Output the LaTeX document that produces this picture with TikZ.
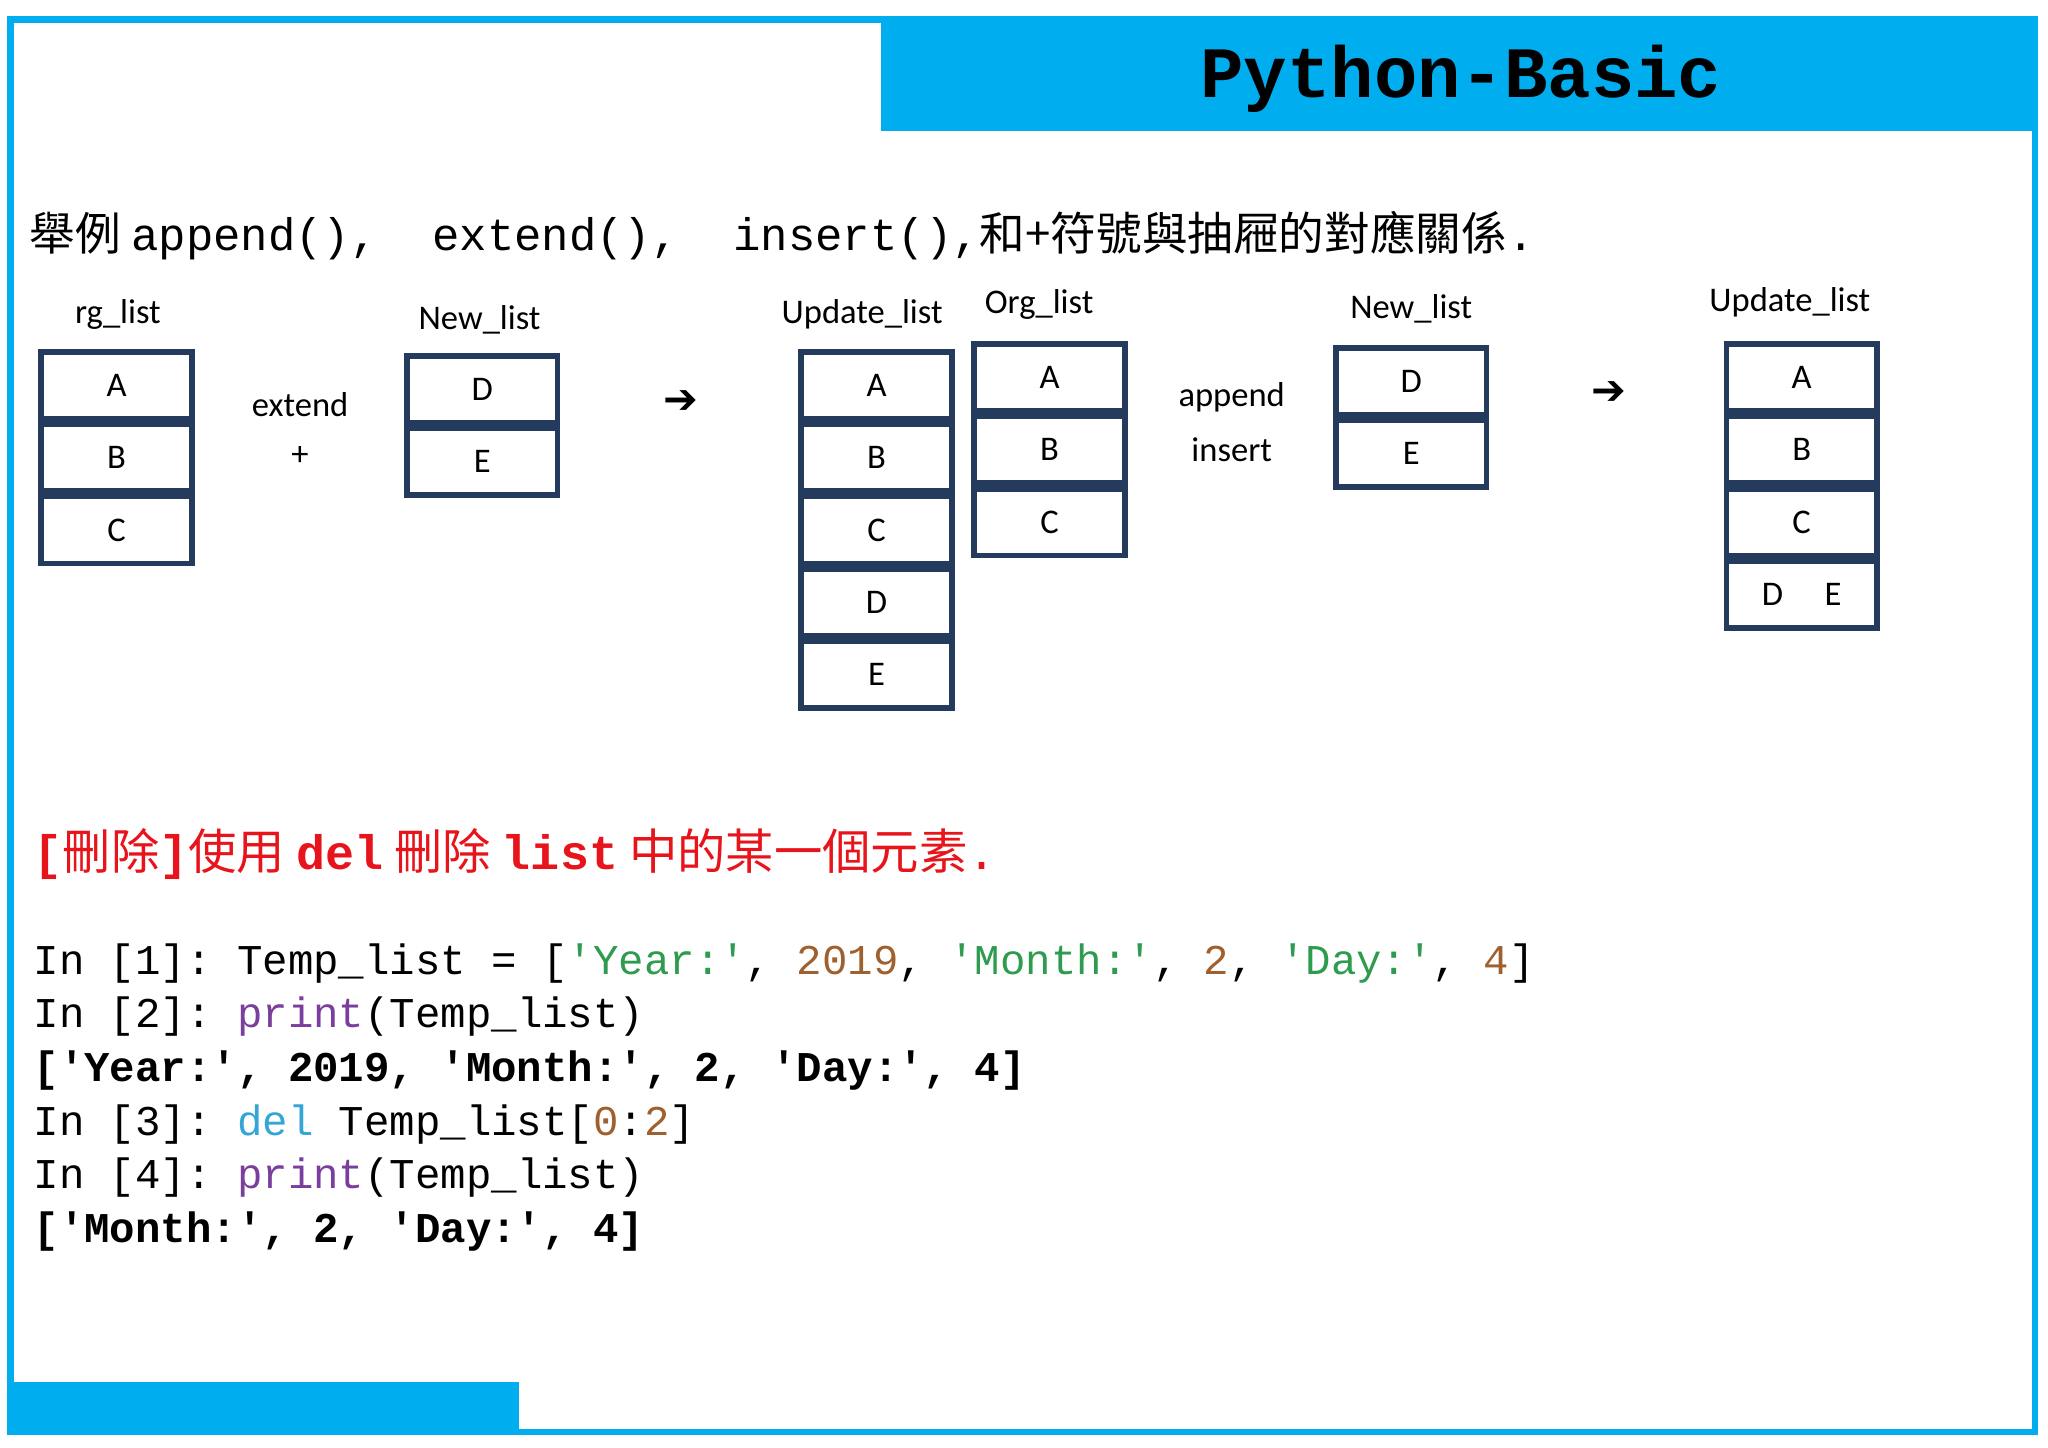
\documentclass[tikz,border=0pt]{standalone}
\usepackage{fontspec}
\setmainfont{Carlito}
\setmonofont{Liberation Mono}
\newfontfamily\cjk{Noto Sans CJK TC}
\newfontfamily\symfont{DejaVu Sans}
\usetikzlibrary{positioning}
\definecolor{frame}{HTML}{00AEEF}
\definecolor{navy}{HTML}{243B5E}
\definecolor{strg}{HTML}{2E9B4E}
\definecolor{numb}{HTML}{A0602D}
\definecolor{kwp}{HTML}{7A3E9D}
\definecolor{kwd}{HTML}{33A5D6}
\definecolor{redt}{HTML}{E8141B}
\newcommand{\us}{\_}

\begin{document}
\begin{tikzpicture}[x=0.01cm, y=-0.01cm,
	cell/.style={draw=navy, line width=1.2pt, minimum width=1.15cm, minimum height=0.51cm, inner sep=0pt, font=\fontsize{7.5}{9}\selectfont},
	lbl/.style={font=\fontsize{7.5}{9}\selectfont},
	code/.style={anchor=west, inner sep=0pt, font=\ttfamily\fontsize{9.2}{11}\selectfont}]
	\useasboundingbox (0,0) rectangle (1563,1105);
	% frame and bars
	\draw[frame, line width=1.4pt] (8,15) rectangle (1553,1093);
	\fill[frame] (672,15) rectangle (1555,100);
	\fill[frame] (8,1055) rectangle (396,1092);
	\node[font=\ttfamily\bfseries\fontsize{15.7}{18}\selectfont] (title) at (1115,60) {Python-Basic};
	\node[anchor=west, inner sep=0pt, font=\fontsize{9.9}{11}\selectfont] (intro) at (22,180)
		{{\cjk 舉例} \texttt{append(),\ \ extend(),\ \ insert(),}{\cjk 和+符號與抽屜的對應關係}\texttt{.}};
	% extend
	\node[lbl] (orgA) at (90,240) {rg\us list};
	\node[cell] (a1) at (89,294) {A};
	\node[cell, below=0pt of a1] (a2) {B};
	\node[cell, below=0pt of a2] (a3) {C};
	\node[lbl] (ext) at (229,309) {extend};
	\node[lbl] (plus) at (229,348) {+};
	\node[lbl] (newA) at (366,244) {New\us list};
	\node[cell] (b1) at (368,297) {D};
	\node[cell, below=0pt of b1] (b2) {E};
	\node[font=\symfont\bfseries\fontsize{9}{10}\selectfont] (arrA) at (520,307) {➔};
	\node[lbl] (updA) at (658,240) {Update\us list};
	\node[cell] (c1) at (669,294) {A};
	\node[cell, below=0pt of c1] (c2) {B};
	\node[cell, below=0pt of c2] (c3) {C};
	\node[cell, below=0pt of c3] (c4) {D};
	\node[cell, below=0pt of c4] (c5) {E};
	% append / insert
	\node[lbl] (orgB) at (793,232) {Org\us list};
	\node[cell] (d1) at (801,288) {A};
	\node[cell, below=0pt of d1] (d2) {B};
	\node[cell, below=0pt of d2] (d3) {C};
	\node[lbl] (app) at (940,303) {append};
	\node[lbl] (ins) at (940,343) {insert};
	\node[lbl] (newB) at (1077,236) {New\us list};
	\node[cell] (e1) at (1077,291) {D};
	\node[cell, below=0pt of e1] (e2) {E};
	\node[font=\symfont\bfseries\fontsize{9}{10}\selectfont] (arrB) at (1228,300) {➔};
	\node[lbl] (updB) at (1366,231) {Update\us list};
	\node[cell] (f1) at (1375,288) {A};
	\node[cell, below=0pt of f1] (f2) {B};
	\node[cell, below=0pt of f2] (f3) {C};
	\node[cell, below=0pt of f3] (f4) {D\hspace{1.2em}E};
	% del
	\node[anchor=west, inner sep=0pt, text=redt, font=\fontsize{10.5}{12}\selectfont] (delhead) at (25,652)
		{\texttt{\bfseries[}{\cjk 刪除}\texttt{\bfseries]}{\cjk 使用} \texttt{\bfseries del} {\cjk 刪除} \texttt{\bfseries list} {\cjk 中的某一個元素}\texttt{.}};
	\node[code] (l1) at (25,735) {In [1]: Temp\us list = [\textcolor{strg}{'Year:'}, \textcolor{numb}{2019}, \textcolor{strg}{'Month:'}, \textcolor{numb}{2}, \textcolor{strg}{'Day:'}, \textcolor{numb}{4}]};
	\node[code] (l2) at (25,776) {In [2]: \textcolor{kwp}{print}(Temp\us list)};
	\node[code, font=\ttfamily\bfseries\fontsize{9.2}{11}\selectfont] (l3) at (25,817) {['Year:', 2019, 'Month:', 2, 'Day:', 4]};
	\node[code] (l4) at (25,858) {In [3]: \textcolor{kwd}{del} Temp\us list[\textcolor{numb}{0}:\textcolor{numb}{2}]};
	\node[code] (l5) at (25,899) {In [4]: \textcolor{kwp}{print}(Temp\us list)};
	\node[code, font=\ttfamily\bfseries\fontsize{9.2}{11}\selectfont] (l6) at (25,940) {['Month:', 2, 'Day:', 4]};
\end{tikzpicture}
\end{document}
